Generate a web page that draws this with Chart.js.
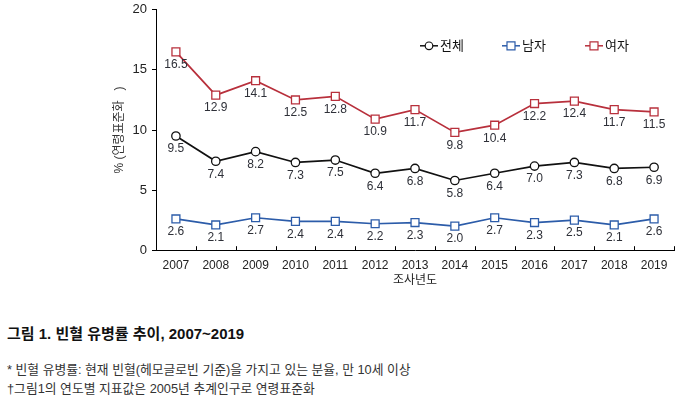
<!DOCTYPE html>
<html lang="ko">
<head>
    <meta charset="UTF-8">
    <title>빈혈 유병률 추이, 2007~2019</title>
    <script src="https://cdn.jsdelivr.net/npm/chart.js"></script>
    <style>
        body {
            margin: 0;
            background: #fff;
            font-family: 'Liberation Sans', 'Noto Sans CJK KR', sans-serif;
            color: #222;
            width: 682px;
            height: 395px;
            overflow: hidden;
            position: relative;
        }

        .chart-box {
            position: absolute;
            left: 0;
            top: -3px;
            width: 682px;
            height: 291px;
        }

        .caption {
            position: absolute;
            left: 7px;
            top: 322px;
            margin: 0;
            font-size: 15px;
            font-weight: bold;
            color: #111;
        }

        .note {
            position: absolute;
            left: 7px;
            margin: 0;
            font-size: 12.8px;
            color: #333;
        }
    </style>
</head>
<body>
    <div class="chart-box">
        <canvas id="anemiaChart"></canvas>
    </div>
    <p class="caption">그림 1. 빈혈 유병률 추이, 2007~2019</p>
    <p class="note" style="top: 359px;">* 빈혈 유병률: 현재 빈혈(헤모글로빈 기준)을 가지고 있는 분율, 만 10세 이상</p>
    <p class="note" style="top: 378px;">†그림1의 연도별 지표값은 2005년 추계인구로 연령표준화</p>

    <script>
        const years = ['2007', '2008', '2009', '2010', '2011', '2012', '2013', '2014', '2015', '2016', '2017', '2018', '2019'];
        const total = [9.5, 7.4, 8.2, 7.3, 7.5, 6.4, 6.8, 5.8, 6.4, 7.0, 7.3, 6.8, 6.9];
        const male = [2.6, 2.1, 2.7, 2.4, 2.4, 2.2, 2.3, 2.0, 2.7, 2.3, 2.5, 2.1, 2.6];
        const female = [16.5, 12.9, 14.1, 12.5, 12.8, 10.9, 11.7, 9.8, 10.4, 12.2, 12.4, 11.7, 11.5];
        const yTicks = [0, 5, 10, 15, 20];

        const seriesNames = ['전체', '남자', '여자'];
        const colors = ['#111111', '#2c5ca9', '#b8303c'];
        const fontFamily = "'Liberation Sans', 'Noto Sans CJK KR', sans-serif";

        // 값 라벨 (점 아래)
        const valueLabels = {
            id: 'valueLabels',
            afterDatasetsDraw(chart) {
                const ctx = chart.ctx;
                ctx.save();
                ctx.font = '12px ' + fontFamily;
                ctx.fillStyle = '#2e3038';
                ctx.textAlign = 'center';
                ctx.textBaseline = 'middle';
                chart.data.datasets.forEach((ds, di) => {
                    const meta = chart.getDatasetMeta(di);
                    meta.data.forEach((pt, i) => {
                        ctx.fillText(ds.data[i].toFixed(1), pt.x, pt.y + 13);
                    });
                });
                ctx.restore();
            }
        };

        // x축 안쪽 눈금 + 범례
        const extras = {
            id: 'extras',
            afterDraw(chart) {
                const ctx = chart.ctx;
                const xs = chart.scales.x;
                const area = chart.chartArea;
                ctx.save();
                ctx.strokeStyle = '#000';
                ctx.lineWidth = 1;
                const half = (xs.getPixelForValue(1) - xs.getPixelForValue(0)) / 2;
                for (let i = 0; i <= years.length; i++) {
                    const px = Math.round(xs.getPixelForValue(i) - half) + 0.5;
                    ctx.beginPath();
                    ctx.moveTo(px, area.bottom);
                    ctx.lineTo(px, area.bottom - 4);
                    ctx.stroke();
                }

                // 범례
                const legendY = area.top + 36;
                const starts = [area.left + 264, area.left + 346, area.left + 429];
                ctx.font = '13px ' + fontFamily;
                ctx.textBaseline = 'middle';
                ctx.textAlign = 'left';
                chart.data.datasets.forEach((ds, di) => {
                    const x0 = starts[di];
                    ctx.strokeStyle = colors[di];
                    ctx.lineWidth = 1.5;
                    ctx.beginPath();
                    ctx.moveTo(x0, legendY);
                    ctx.lineTo(x0 + 18, legendY);
                    ctx.stroke();
                    ctx.fillStyle = '#fff';
                    ctx.lineWidth = 1.2;
                    ctx.beginPath();
                    if (di === 0) {
                        ctx.arc(x0 + 9, legendY, 3.8, 0, Math.PI * 2);
                    } else {
                        ctx.rect(x0 + 5, legendY - 4, 8, 8);
                    }
                    ctx.fill();
                    ctx.stroke();
                    ctx.fillStyle = '#111';
                    ctx.fillText(seriesNames[di], x0 + 20, legendY + 1);
                });
                ctx.restore();
            }
        };

        const makeSet = (label, data, color, style) => ({
            label: label,
            data: data,
            borderColor: color,
            borderWidth: 1.7,
            backgroundColor: '#fff',
            pointStyle: style,
            pointRadius: style === 'circle' ? 4.2 : 5.6,
            pointBorderWidth: 1.3,
            pointBackgroundColor: '#fff',
            pointBorderColor: color,
            tension: 0
        });

        new Chart(document.getElementById('anemiaChart').getContext('2d'), {
            type: 'line',
            data: {
                labels: years,
                datasets: [
                    makeSet(seriesNames[0], total, colors[0], 'circle'),
                    makeSet(seriesNames[1], male, colors[1], 'rect'),
                    makeSet(seriesNames[2], female, colors[2], 'rect')
                ]
            },
            options: {
                responsive: true,
                maintainAspectRatio: false,
                animation: false,
                layout: {
                    padding: { top: 6, right: 8, left: 112, bottom: 0 }
                },
                scales: {
                    x: {
                        offset: true,
                        grid: { display: false },
                        border: { color: '#000', width: 1 },
                        ticks: {
                            color: '#222',
                            font: { family: fontFamily, size: 12 },
                            padding: 0,
                            maxRotation: 0
                        },
                        title: {
                            display: true,
                            text: '조사년도',
                            color: '#222',
                            font: { family: fontFamily, size: 12 },
                            padding: { top: 1, bottom: 0 }
                        }
                    },
                    y: {
                        min: 0,
                        max: 20,
                        afterBuildTicks(scale) {
                            scale.ticks = yTicks.map(v => ({ value: v }));
                        },
                        afterFit(scale) {
                            scale.width = 44;
                        },
                        grid: {
                            drawOnChartArea: false,
                            drawTicks: true,
                            tickLength: 4,
                            color: '#000'
                        },
                        border: { color: '#000', width: 1 },
                        ticks: {
                            color: '#222',
                            font: { family: fontFamily, size: 13 },
                            padding: 5
                        },
                        title: {
                            display: true,
                            text: '% (연령표준화   )',
                            color: '#333',
                            font: { family: fontFamily, size: 12 },
                            padding: { top: 0, bottom: 0 }
                        }
                    }
                },
                plugins: {
                    legend: { display: false },
                    tooltip: { enabled: false }
                }
            },
            plugins: [valueLabels, extras]
        });
    </script>
</body>
</html>
